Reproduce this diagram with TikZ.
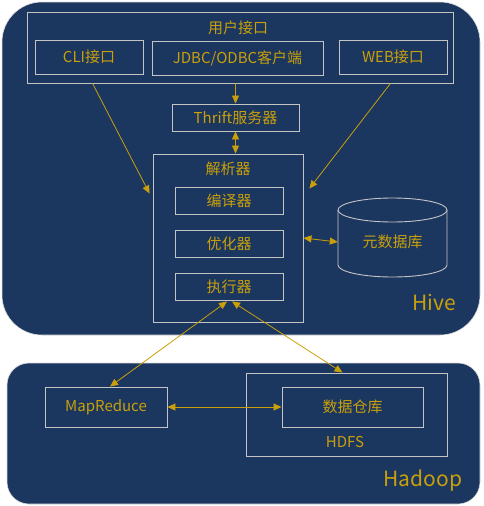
\documentclass[tikz,border=0pt]{standalone}
\usepackage{fontspec}
\setmainfont{Noto Sans CJK SC}
\usetikzlibrary{arrows.meta,calc}
\definecolor{bgblue}{HTML}{1B365F}
\definecolor{gold}{HTML}{C9A00A}
\definecolor{lgray}{HTML}{C4C4C4}
\tikzset{
  box/.style={draw=lgray,line width=0.9pt,rectangle,inner sep=0pt,text=gold,font=\fontsize{15}{15}\selectfont},
  lbl/.style={text=gold,inner sep=0pt,font=\fontsize{15}{15}\selectfont},
  big/.style={text=gold,inner sep=0pt,font=\fontsize{21}{21}\selectfont},
  container/.style={fill=bgblue,draw=lgray!60,line width=0.6pt},
  arr/.style={draw=gold,line width=0.8pt,-{Triangle[length=8pt,width=7pt]}},
  darr/.style={draw=gold,line width=0.8pt,{Triangle[length=8pt,width=7pt]}-{Triangle[length=8pt,width=7pt]}}
}
\begin{document}
\begin{tikzpicture}[x=1pt,y=-1pt]
\useasboundingbox (0,0) rectangle (483,506);
% containers
\path[container,rounded corners=40pt] (2,2) rectangle (480,335);
\path[container,rounded corners=22pt] (7,363) rectangle (480,504);
% user interface
\node[box,minimum width=426pt,minimum height=71pt] (ui) at (240,47.5) {};
\node[lbl] (uit) at (238,28) {用户接口};
\node[box,minimum width=108pt,minimum height=34pt] (cli) at (89,57) {CLI接口};
\node[box,minimum width=171pt,minimum height=34pt] (jdbc) at (237.5,58) {JDBC/ODBC客户端};
\node[box,minimum width=108pt,minimum height=34pt] (web) at (393,57) {WEB接口};
% thrift
\node[box,minimum width=127pt,minimum height=27pt] (thrift) at (235.5,117.5) {Thrift服务器};
% parser
\node[box,minimum width=150pt,minimum height=168pt] (parser) at (228,238) {};
\node[lbl] (pt) at (228,169) {解析器};
\node[box,minimum width=108pt,minimum height=27pt] (comp) at (229,200.5) {编译器};
\node[box,minimum width=108pt,minimum height=27pt] (opt) at (229,243.5) {优化器};
\node[box,minimum width=108pt,minimum height=27pt] (exec) at (229,286.5) {执行器};
% database cylinder
\node[lbl,minimum width=109pt,minimum height=79pt] (db) at (392.5,242) {元数据库};
\draw[lgray,line width=0.9pt] (338,210) -- (338,265) arc[start angle=180,end angle=360,x radius=54.5pt,y radius=12pt] -- (447,210);
\draw[lgray,line width=0.9pt] (392.5,210) ellipse[x radius=54.5pt,y radius=12pt];
\node[big] (hive) at (434,302) {Hive};
% hadoop
\node[box,minimum width=122pt,minimum height=40pt] (mr) at (106,407) {MapReduce};
\node[box,minimum width=201pt,minimum height=83pt] (hdfs) at (346.5,414.5) {};
\node[box,minimum width=141pt,minimum height=40pt] (dw) at (352.5,407) {数据仓库};
\node[lbl] (hdfst) at (345,442) {HDFS};
\node[big] (hadoop) at (423,481) {Hadoop};
% arrows
\draw[arr] ($(ui.south west)+(66,0)$) -- ($(parser.north west)+(-3,40)$);
\draw[arr] ($(ui.south east)+(-63,0)$) -- ($(parser.north east)+(6,35)$);
\draw[arr] (ui.south -| thrift) -- (thrift.north);
\draw[darr] (thrift.south) -- (parser.north -| thrift);
\draw[darr] (parser.east) -- (db.west);
\draw[darr] ($(exec.south)+(-2,1)$) -- ($(mr.north)+(4,0)$);
\draw[darr] ($(exec.south)+(3,1)$) -- ($(hdfs.north)+(-4,0)$);
\draw[darr] (mr.east) -- (dw.west);
\end{tikzpicture}
\end{document}
